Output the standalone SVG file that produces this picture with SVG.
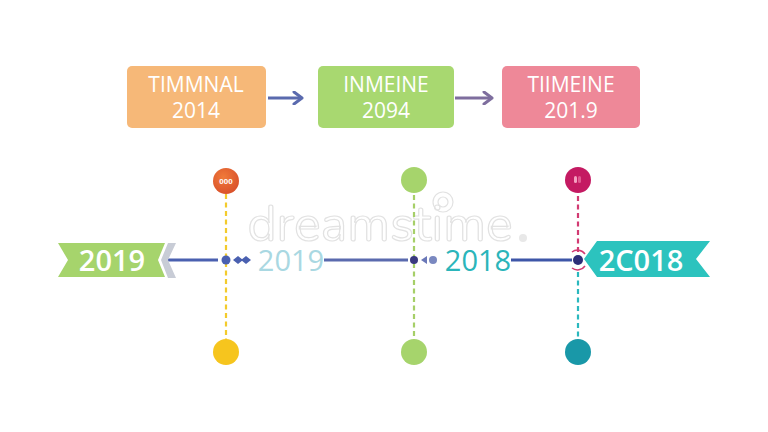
<svg xmlns="http://www.w3.org/2000/svg" width="768" height="432" viewBox="0 0 768 432">
<defs>
<style>
.bt{font-family:"Open Sans","Liberation Sans",sans-serif;fill:#fff;text-anchor:middle;font-size:21px;font-weight:500}
.yr{font-family:"Open Sans","Liberation Sans",sans-serif;text-anchor:middle;font-size:29px}
.dash{stroke-width:2.2;stroke-dasharray:5 3.5;fill:none}
.wm{font-family:"Nunito","Lato","Liberation Sans",sans-serif;font-size:50px;fill:none;stroke:#e2e2e2;stroke-width:1.2;text-anchor:middle}
</style>
<radialGradient id="gO" cx="40%" cy="35%" r="70%"><stop offset="0" stop-color="#F07A3A"/><stop offset="1" stop-color="#D9502A"/></radialGradient>
<marker id="ah1" markerWidth="12" markerHeight="14" refX="10" refY="7" orient="auto" markerUnits="userSpaceOnUse"><path d="M2,1 L10,7 L2,13" fill="none" stroke="#5A6AAE" stroke-width="3" stroke-linecap="round" stroke-linejoin="round"/></marker>
<marker id="ah2" markerWidth="12" markerHeight="14" refX="10" refY="7" orient="auto" markerUnits="userSpaceOnUse"><path d="M2,1 L10,7 L2,13" fill="none" stroke="#7E6E9E" stroke-width="3" stroke-linecap="round" stroke-linejoin="round"/></marker>
</defs>
<rect width="768" height="432" fill="#fff"/>
<text class="wm" x="380" y="241">dreamstime</text>
<circle cx="443" cy="202" r="10" fill="none" stroke="#e2e2e2" stroke-width="1.2"/>
<circle cx="443" cy="202" r="5" fill="none" stroke="#e2e2e2" stroke-width="1.2"/>
<circle cx="523" cy="238" r="4" fill="#e8e8e8"/>

<g id="connectors">
<line x1="268" y1="98" x2="302" y2="98" stroke="#5A6AAE" stroke-width="3" marker-end="url(#ah1)"/>
<line x1="455" y1="98" x2="492" y2="98" stroke="#7E6E9E" stroke-width="3" marker-end="url(#ah2)"/>
<line x1="162" y1="260" x2="218" y2="260" stroke="#4A60B0" stroke-width="3"/>
<line x1="324" y1="260" x2="408" y2="260" stroke="#5A6AAE" stroke-width="3"/>
<line x1="511" y1="260" x2="572" y2="260" stroke="#3E56A8" stroke-width="3"/>
<line x1="226" y1="194" x2="226" y2="340" class="dash" stroke="#F3CB2C"/>
<line x1="414" y1="195" x2="414" y2="340" class="dash" stroke="#A6CF68"/>
<line x1="578" y1="196" x2="578" y2="252" class="dash" stroke="#D23A72"/>
<line x1="578" y1="272" x2="578" y2="340" class="dash" stroke="#2AB8BE"/>
</g>

<g id="box1">
<rect x="127" y="66" width="139" height="62" rx="5" fill="#F6B878"/>
<text class="bt" x="196" y="92">TIMMNAL</text>
<text class="bt" x="196" y="118" font-size="23">2014</text>
</g>
<g id="box2">
<rect x="318" y="66" width="136" height="62" rx="5" fill="#A8D870"/>
<text class="bt" x="386" y="92">INMEINE</text>
<text class="bt" x="386" y="118" font-size="23">2094</text>
</g>
<g id="box3">
<rect x="502" y="66" width="138" height="62" rx="5" fill="#EE8898"/>
<text class="bt" x="571" y="92">TIIMEINE</text>
<text class="bt" x="571" y="118" font-size="23">201.9</text>
</g>

<g id="banner-left">
<polygon points="58,243 165,243 158,260 165,277 58,277 68,260" fill="#A6D46C"/>
<polygon points="168,243 176,243 168,260 176,278 168,278 161,260" fill="#C8CCD6"/>
<text class="yr" x="112" y="271" fill="#fff" font-weight="600">2019</text>
</g>

<g id="marker-2019">
<circle cx="226" cy="260" r="4.5" fill="#4A60B0"/>
<polygon points="233,260 238,256 243,260 238,264" fill="#4A60B0"/>
<polygon points="241,260 246,256 251,260 246,264" fill="#4A60B0"/>
<text class="yr" x="291" y="271" fill="#A9D8E2">2019</text>
</g>

<g id="marker-2018">
<circle cx="414" cy="260" r="4" fill="#3A3A80"/>
<polygon points="421,260 427,256 427,264" fill="#6A78B8"/>
<circle cx="433" cy="260" r="4" fill="#7A88C0"/>
<text class="yr" x="478" y="271" fill="#2BB5BA">2018</text>
</g>

<g id="marker-end">
<path d="M572,252 A9,9 0 0 1 585,254" fill="none" stroke="#D23A72" stroke-width="1.5"/>
<path d="M585,266 A9,9 0 0 1 572,268" fill="none" stroke="#D23A72" stroke-width="1.5"/>
<circle cx="578" cy="260" r="5" fill="#2E2E78"/>
</g>

<g id="banner-right">
<polygon points="597,241 710,241 696,259 710,277 597,277 584,259" fill="#2CC3BE"/>
<text class="yr" x="641" y="271" fill="#fff" font-weight="600">2C018</text>
</g>

<g id="dot-top-1"><circle cx="226" cy="181" r="13" fill="url(#gO)"/><text x="226" y="184" font-family="Liberation Sans,sans-serif" font-size="8" font-weight="bold" fill="#fff" text-anchor="middle">000</text></g>
<g id="dot-top-2"><circle cx="414" cy="180" r="13" fill="#A6D46C"/></g>
<g id="dot-top-3"><circle cx="578" cy="180" r="13" fill="#C41A62"/><rect x="574" y="176" width="3" height="7" rx="1.5" fill="#F4A0C0"/><rect x="578" y="176" width="3" height="7" rx="1.5" fill="#E05A90"/></g>
<g id="dot-bot-1"><circle cx="226" cy="352" r="13" fill="#F6C51E"/></g>
<g id="dot-bot-2"><circle cx="414" cy="352" r="13" fill="#A6D46C"/></g>
<g id="dot-bot-3"><circle cx="578" cy="352" r="13" fill="#1998A8"/></g>
</svg>
